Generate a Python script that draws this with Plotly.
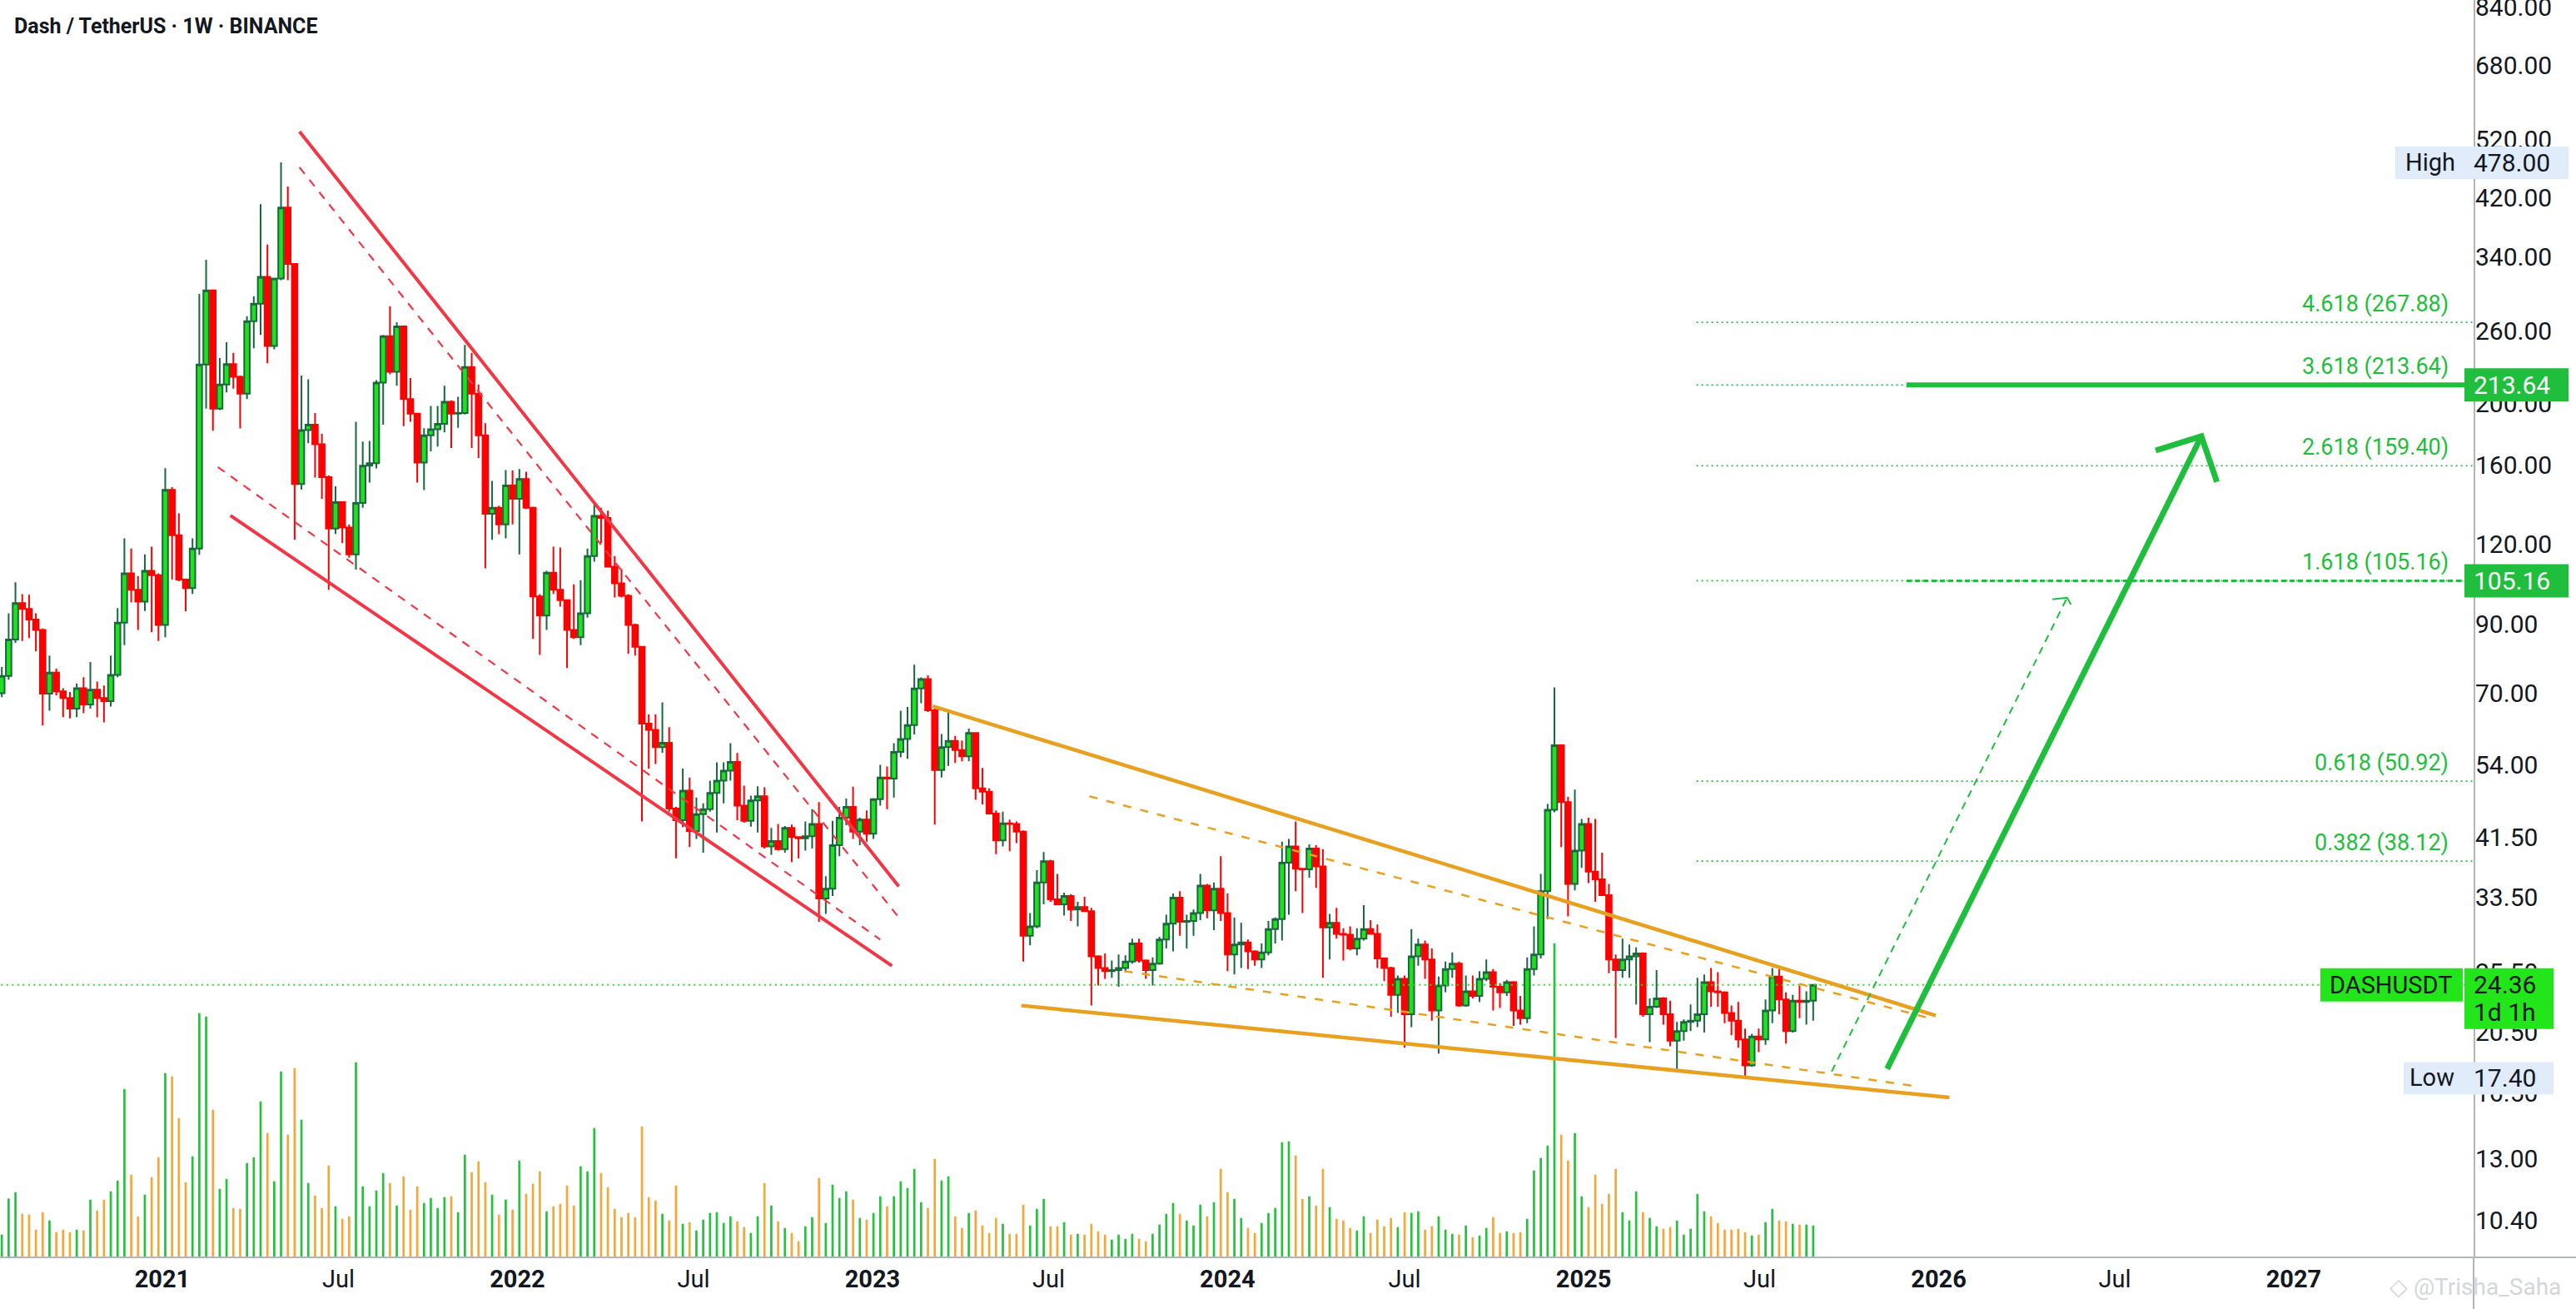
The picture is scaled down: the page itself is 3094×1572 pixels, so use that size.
import math
import pandas as pd
import plotly.graph_objects as go

# ---------------- data ----------------
first_week = "2020-07-20"
n_weeks = 267
week_dates = pd.date_range(first_week, periods=n_weeks, freq="7D")

opens = [
    70, 74.5, 85, 97, 95, 91.4, 88, 69.9, 75.4, 70.5,
    68.8, 66.2, 71.3, 67.2, 70.9, 68.8, 68, 74.8, 90.4, 108,
    101.8, 97.5, 109, 107.3, 89.6, 146.2, 124, 105.6, 102.4, 118.2,
    230, 300.8, 196, 214, 230.4, 220, 207, 269, 286.6, 316,
    246, 314, 406, 331, 149.3, 181.4, 185, 172.4, 153, 127,
    139.8, 127.5, 115.7, 139.4, 159.5, 161, 215.4, 254.8, 224, 264,
    203, 192.5, 161.3, 178, 182, 185.6, 201, 192.5, 193, 228,
    207, 178, 134, 137, 129, 148.5, 141.5, 152, 137, 99.4,
    92.7, 108.3, 101.8, 98, 88, 85.7, 93.5, 115, 133, 132,
    110.7, 104.2, 99.6, 89.6, 82.8, 62.7, 61.3, 57.6, 58.5, 46.1,
    44.2, 49.2, 42.5, 45.2, 46, 48.8, 51, 52.9, 54.6, 46.6,
    44.1, 47.5, 48.2, 40.2, 41, 39.8, 43, 41.6, 41.4, 41.7,
    43.6, 33.3, 34.5, 40.4, 44.6, 46.4, 42.4, 44.3, 42.1, 47.7,
    51.6, 51.4, 56.6, 59.3, 62.4, 71.2, 73.7, 65.8, 53, 57.6,
    58.9, 57, 55.7, 60.6, 49.6, 49, 45.3, 41.1, 43.7, 43.6,
    42.4, 29.1, 30.1, 35.3, 38.1, 33.2, 32.6, 33.6, 32, 32.3,
    31.8, 27, 25.9, 25.6, 25.7, 25.9, 26.5, 28.3, 26.6, 25.7,
    26.3, 28.7, 30.4, 33.4, 30.6, 30.7, 31.6, 34.9, 31.9, 34.5,
    31.6, 27.2, 28.2, 28.4, 27.5, 26.7, 27.4, 29.8, 30.9, 37.9,
    40.2, 37.1, 37, 39.9, 37.4, 30, 30.5, 29.3, 29.2, 27.8,
    28.8, 29.8, 29.3, 26.8, 25.9, 23.5, 24.9, 21.9, 27, 28.2,
    26.7, 22.2, 24.3, 25.8, 26.3, 22.6, 23.8, 23.4, 24.9, 25.5,
    24.2, 23.7, 24.6, 22.2, 21.6, 25.8, 27.2, 34.2, 45.9, 58,
    47.2, 35.1, 39.6, 43.6, 36.7, 35.7, 33.7, 26.7, 25.7, 26.7,
    27, 27.3, 21.9, 22.5, 23.2, 21.9, 19.9, 20.6, 21.3, 21.4,
    21.9, 24.6, 23.8, 23.7, 22, 21.4, 20, 18.2, 20.2, 20,
    22.2, 25.1, 23.1, 20.6, 23, 22.9, 23,
]
highs = [
    77, 93.5, 104.6, 100.2, 100, 93.5, 88.5, 80.2, 76.5, 71.3,
    70.3, 72.5, 74.2, 78.4, 73, 72, 80.2, 95.3, 122.6, 118.2,
    107, 115.7, 119, 108, 158.1, 147.6, 134.2, 106, 122.6, 297,
    336, 302, 235.4, 249.4, 240, 221, 274, 294.5, 411, 355,
    315, 478, 438, 332, 221, 218, 193, 179, 154, 148,
    140, 129, 187, 174, 174.5, 217.4, 256, 284, 268, 265,
    219, 193, 182.6, 198, 198, 213, 202, 204.6, 247, 240,
    214, 186, 151, 138, 157, 156.7, 157.6, 156, 137.5, 100.2,
    109, 119, 118.6, 98.2, 103.8, 105.4, 118.2, 138.4, 137, 135.5,
    115, 109.8, 100.2, 90, 83, 64.8, 64.8, 67.7, 61.9, 46.4,
    53.3, 51.6, 48, 47, 51, 54.5, 54.5, 58.4, 56.4, 50.1,
    48.3, 50, 49.8, 43, 43.6, 43.3, 43.5, 41.7, 44, 46,
    47.2, 36.1, 44.1, 46.4, 47.8, 49.9, 44.6, 45.8, 47.9, 54,
    53.7, 58.4, 65.7, 66.6, 77.6, 74.1, 74.7, 66.3, 60.4, 65.5,
    60, 59, 61.6, 60.8, 53.4, 49.6, 45.8, 45.6, 44.3, 44,
    42.6, 31.6, 36.9, 39.4, 38.3, 36.4, 34, 33.8, 32.9, 33.5,
    32.2, 27.1, 27.3, 26.6, 27.2, 27.1, 28.8, 28.8, 26.7, 26.9,
    29, 31.4, 33.9, 34.2, 31.4, 32, 36.4, 35.1, 35.3, 38.8,
    33.9, 31.1, 30.5, 28.7, 27.6, 28.3, 30.7, 31.1, 40.9, 41.3,
    44, 37.2, 40.5, 40.4, 39.8, 31.5, 32.2, 29.9, 30.1, 29.9,
    32.5, 30.8, 30.3, 26.9, 26, 25.2, 25.2, 29.8, 28.8, 28.6,
    27.8, 25.1, 26.5, 27.4, 26.5, 25.2, 25.2, 25.6, 26.7, 25.8,
    24.5, 24.8, 24.7, 23.4, 26.9, 30.1, 36.4, 46.9, 71.5, 58.2,
    48.1, 49.4, 44.4, 44.6, 44.4, 39.3, 35.1, 27.2, 28.8, 28.2,
    27.9, 27.4, 23.2, 25.7, 23.3, 23, 21.3, 21.5, 22.7, 25,
    25.3, 25.9, 25.5, 23.8, 22.6, 22.9, 20.8, 20.4, 20.8, 23.1,
    25.9, 25.8, 23.7, 23.5, 24.3, 23.8, 24.4,
]
lows = [
    69, 73.5, 84, 84.6, 85.5, 81.5, 62.3, 65.7, 69.5, 64.2,
    63.9, 64.2, 65.1, 66.2, 64.2, 63, 66.7, 74.2, 83.3, 97.2,
    88, 94.3, 87.3, 84.6, 85.7, 105.6, 105, 94.2, 100.3, 115.5,
    196, 181, 195, 208, 210.7, 182.5, 203, 244, 256, 231,
    243, 312, 312, 122, 146.3, 173, 152.8, 141.5, 101.8, 124.6,
    120.5, 114.3, 109.5, 137, 150, 158, 185, 222, 213, 184,
    187, 150, 146, 168, 171, 180, 170, 183, 192, 170,
    164, 110, 122, 124.5, 122.6, 129, 115.7, 136.4, 85.2, 80.4,
    88, 100.3, 95.8, 76.7, 85.2, 83.3, 92, 112.7, 120.5, 110.5,
    99, 99, 80.8, 80.2, 44, 53.3, 54.2, 56.4, 45.6, 38.5,
    43.1, 40.1, 41.3, 39.3, 45.6, 42.3, 47, 51, 44.2, 43.8,
    43.2, 42.3, 39.9, 39, 39.6, 39.3, 38, 38.5, 39.6, 39.9,
    30.6, 31.5, 33.6, 38.8, 43.4, 41.3, 40.4, 40.9, 41.3, 46.6,
    46, 48, 55.5, 55.2, 60.3, 67.5, 65.4, 43.5, 51.6, 53.8,
    54.4, 54.7, 54.7, 47.6, 46.8, 45.1, 39.1, 40.2, 39.5, 40.7,
    26.5, 28.1, 29.9, 32.6, 32.9, 32.5, 31.3, 30.7, 30.1, 31.7,
    22.6, 24.3, 24.9, 25, 24.2, 25.5, 26.3, 26.4, 24.9, 24.3,
    26.2, 27.8, 27.5, 29.1, 27.8, 29.1, 30.8, 31, 29.7, 30.7,
    25.6, 25.3, 25.9, 25.8, 26.1, 25.9, 27.1, 28.3, 28.6, 31.4,
    34.2, 31.6, 35.9, 34.6, 25, 26.7, 28.8, 26.6, 27.6, 27.1,
    28.6, 29.2, 25.9, 24.7, 21.7, 22, 19.4, 20.9, 26.1, 24.9,
    21.4, 19, 23.7, 25, 22.5, 22.5, 23.2, 22.9, 24.7, 22.2,
    22.4, 23.4, 21, 21.1, 21.2, 25.2, 26.8, 30.9, 45.5, 40.1,
    31.2, 34.3, 37.2, 35.2, 32.9, 33.6, 25.4, 20.1, 25, 25,
    22.7, 21.7, 19.8, 22.4, 21.1, 19.5, 17.8, 19.9, 20.6, 20.9,
    20.5, 22.5, 22.5, 21.2, 20.3, 19.4, 17.4, 18.1, 19.1, 19.6,
    21.2, 21.9, 19.7, 20.5, 21.6, 21.1, 21.4,
]
closes = [
    74.5, 85, 97, 95, 91.4, 88, 69.9, 75.4, 70.5, 68.8,
    66.2, 71.3, 67.2, 70.9, 68.8, 68, 74.8, 90.4, 108, 101.8,
    97.5, 109, 107.3, 89.6, 146.2, 124, 105.6, 102.4, 118.2, 230,
    300.8, 196, 214, 230.4, 220, 207, 269, 286.6, 316, 246,
    314, 406, 331, 149.3, 181.4, 185, 172.4, 153, 127, 139.8,
    127.5, 115.7, 139.4, 159.5, 161, 215.4, 254.8, 224, 264, 203,
    192.5, 161.3, 178, 182, 185.6, 201, 192.5, 193, 228, 207,
    178, 134, 137, 129, 148.5, 141.5, 152, 137, 99.4, 92.7,
    108.3, 101.8, 98, 88, 85.7, 93.5, 115, 133, 132, 110.7,
    104.2, 99.6, 89.6, 82.8, 62.7, 61.3, 57.6, 58.5, 46.1, 44.2,
    49.2, 42.5, 45.2, 46, 48.8, 51, 52.9, 54.6, 46.6, 44.1,
    47.5, 48.2, 40.2, 41, 39.8, 43, 41.6, 41.4, 41.7, 43.6,
    33.3, 34.5, 40.4, 44.6, 46.4, 42.4, 44.3, 42.1, 47.7, 51.6,
    51.4, 56.6, 59.3, 62.4, 71.2, 73.7, 65.8, 53, 57.6, 58.9,
    57, 55.7, 60.6, 49.6, 49, 45.3, 41.1, 43.7, 43.6, 42.4,
    29.1, 30.1, 35.3, 38.1, 33.2, 32.6, 33.6, 32, 32.3, 31.8,
    27, 25.9, 25.6, 25.7, 25.9, 26.5, 28.3, 26.6, 25.7, 26.3,
    28.7, 30.4, 33.4, 30.6, 30.7, 31.6, 34.9, 31.9, 34.5, 31.6,
    27.2, 28.2, 28.4, 27.5, 26.7, 27.4, 29.8, 30.9, 37.9, 40.2,
    37.1, 37, 39.9, 37.4, 30, 30.5, 29.3, 29.2, 27.8, 28.8,
    29.8, 29.3, 26.8, 25.9, 23.5, 24.9, 21.9, 27, 28.2, 26.7,
    22.2, 24.3, 25.8, 26.3, 22.6, 23.8, 23.4, 24.9, 25.5, 24.2,
    23.7, 24.6, 22.2, 21.6, 25.8, 27.2, 34.2, 45.9, 58, 47.2,
    35.1, 39.6, 43.6, 36.7, 35.7, 33.7, 26.7, 25.7, 26.7, 27,
    27.3, 21.9, 22.5, 23.2, 21.9, 19.9, 20.6, 21.3, 21.4, 21.9,
    24.6, 23.8, 23.7, 22, 21.4, 20, 18.2, 20.2, 20, 22.2,
    25.1, 23.1, 20.6, 23, 22.9, 23, 24.36,
]
# weekly volume (thousand DASH)
volumes = [
    273, 707, 783, 523, 513, 333, 543, 443, 303, 333,
    303, 333, 323, 693, 563, 693, 793, 923, 2023, 993,
    493, 753, 963, 1203, 2213, 2173, 1673, 903, 1213, 2933,
    2893, 1773, 823, 943, 593, 583, 1133, 1203, 1873, 1493,
    913, 2233, 1473, 2273, 1653, 893, 743, 593, 1103, 613,
    463, 493, 2343, 853, 613, 803, 1013, 893, 623, 973,
    573, 853, 653, 713, 593, 723, 733, 543, 1233, 1023,
    1153, 903, 753, 513, 693, 573, 1163, 763, 883, 1033,
    553, 613, 643, 863, 623, 1093, 1033, 1553, 1013, 843,
    583, 483, 533, 483, 1573, 723, 683, 523, 443, 863,
    403, 423, 323, 453, 533, 543, 413, 493, 433, 363,
    293, 493, 893, 623, 433, 353, 293, 193, 373, 483,
    953, 413, 873, 713, 793, 693, 473, 453, 533, 733,
    613, 733, 913, 833, 1063, 663, 593, 1183, 923, 973,
    493, 353, 533, 563, 383, 293, 473, 403, 283, 283,
    633, 383, 583, 703, 373, 373, 423, 273, 283, 273,
    403, 313, 273, 213, 273, 223, 283, 223, 193, 283,
    393, 523, 653, 523, 443, 383, 633, 493, 663, 1063,
    783, 703, 473, 353, 293, 413, 533, 593, 1383, 1393,
    1223, 703, 733, 623, 1063, 603, 463, 443, 353, 323,
    493, 293, 453, 373, 473, 363, 543, 533, 553, 333,
    373, 493, 333, 283, 273, 383, 243, 263, 353, 483,
    293, 313, 293, 303, 463, 1043, 1193, 1343, 3770, 1473,
    1163, 1493, 733, 603, 993, 643, 763, 1063, 543, 443,
    793, 543, 473, 373, 343, 363, 443, 273, 343, 763,
    553, 493, 413, 333, 333, 343, 303, 263, 273, 423,
    583, 443, 433, 403, 393, 393, 383,
]

last_price = 24.36
high_price = 478.00
low_price = 17.40

fib_levels = [0.382, 0.618, 1.618, 2.618, 3.618, 4.618]
fib_prices = [38.12, 50.92, 105.16, 159.40, 213.64, 267.88]
fib_start = "2025-04-27"
target_start = "2025-11-29"
target_main = 213.64
target_mid = 105.16

# drawn trend lines: (date, price) pairs
red_upper = (["2021-05-22", "2023-01-28"], [534.5, 34.8])
red_lower = (["2021-03-12", "2023-01-21"], [133.2, 26.1])
red_upper_mid = (["2021-05-22", "2023-01-28"], [469.5, 31.1])
red_lower_mid = (["2021-02-27", "2023-01-09"], [158.7, 28.7])
orange_upper = (["2023-03-04", "2025-12-29"], [66.8, 21.8])
orange_lower = (["2023-06-03", "2026-01-12"], [22.6, 16.2])
orange_upper_mid = (["2023-08-12", "2025-12-22"], [48.2, 21.6])
orange_lower_mid = (["2023-09-17", "2025-12-06"], [25.6, 16.9])
arrow_main = (["2025-11-09", "2026-09-28"], [17.97, 177.4])
arrow_main_head = (["2026-08-12", "2026-09-28", "2026-10-14"], [168.5, 177.4, 150.4])
arrow_alt = (["2025-09-13", "2026-05-13"], [17.8, 98.9])
arrow_alt_head = (["2026-04-28", "2026-05-13", "2026-05-17"], [98.3, 98.9, 96.5])

price_ticks = [840, 680, 520, 420, 340, 260, 200, 160, 120, 90, 70, 54,
               41.5, 33.5, 25.5, 20.5, 16.5, 13, 10.4]
time_ticks = ["2021-01-01", "2021-07-01", "2022-01-01", "2022-07-01", "2023-01-01",
              "2023-07-01", "2024-01-01", "2024-07-01", "2025-01-01", "2025-07-01",
              "2026-01-01", "2026-07-01", "2027-01-01"]
time_labels = ["<b>2021</b>", "Jul", "<b>2022</b>", "Jul", "<b>2023</b>", "Jul",
               "<b>2024</b>", "Jul", "<b>2025</b>", "Jul", "<b>2026</b>", "Jul", "<b>2027</b>"]

# ---------------- style / layout ----------------
W, H = 3094, 1572
ML, MR, MT, MB = 0, 123, 0, 62
PW, PH = W - ML - MR, H - MT - MB
X_RANGE = ["2020-07-18 03:00", "2027-07-04 21:00"]
Y_LO, Y_HI = math.log10(9.085), math.log10(860.5)

GREEN = "#1fbe3c"
LIME = "#22e51a"
RED = "#f23645"
ORANGE = "#e8a020"
TXT = "#131722"
AXIS = "#b2b5be"
FONT = "Roboto"
TXT_X = 2970  # left edge of price-scale texts (annotation box)

def ypaper(p, dpx=0.0):
    return (math.log10(p) - Y_LO) / (Y_HI - Y_LO) + dpx / PH

def xpaper(px):
    return px / PW

vol_colors = ["#26c13d" if c >= o else "#f5a838" for o, c in zip(opens, closes)]

fig = go.Figure()

fig.add_trace(go.Bar(
    x=week_dates, y=volumes, marker_color=vol_colors, marker_line_width=0,
    width=2.7 / 8.176 * 7 * 86400000, yaxis="y", hoverinfo="skip", showlegend=False,
))

fig.add_trace(go.Candlestick(
    x=week_dates, open=opens, high=highs, low=lows, close=closes, yaxis="y2",
    increasing=dict(line=dict(color="#17683d", width=2), fillcolor="#21e01d"),
    decreasing=dict(line=dict(color="#ff0000", width=2), fillcolor="#ff0000"),
    whiskerwidth=0, hoverinfo="skip", showlegend=False,
))

def add_line(pts, color, width, dash=None):
    fig.add_trace(go.Scatter(
        x=pts[0], y=pts[1], mode="lines", yaxis="y2", hoverinfo="skip", showlegend=False,
        line=dict(color=color, width=width, dash=dash),
    ))

# current price line
add_line((["2020-01-01", "2028-01-01"], [last_price, last_price]), LIME, 2, "2px,4.5px")

# fib levels
for lv, pr in zip(fib_levels, fib_prices):
    add_line(([fib_start, "2028-01-01"], [pr, pr]), GREEN, 1.8, "2px,4px")

add_line(red_upper, RED, 4)
add_line(red_lower, RED, 4)
add_line(red_upper_mid, RED, 2.2, "10px,9px")
add_line(red_lower_mid, RED, 2.2, "10px,9px")
add_line(orange_upper, ORANGE, 4.5)
add_line(orange_lower, ORANGE, 4.5)
add_line(orange_upper_mid, ORANGE, 2.5, "10px,11px")
add_line(orange_lower_mid, ORANGE, 2.5, "10px,11px")

add_line(([target_start, "2028-01-01"], [target_main, target_main]), GREEN, 6)
add_line(([target_start, "2028-01-01"], [target_mid, target_mid]), GREEN, 3, "6px,4px")

add_line(arrow_main, GREEN, 7)
add_line(arrow_main_head, GREEN, 7)
add_line(arrow_alt, GREEN, 2, "9px,7px")
add_line(arrow_alt_head, GREEN, 2)

shapes = []
annotations = []

# axis separators extending into margins
shapes.append(dict(type="line", xref="paper", yref="paper", x0=0, x1=W / PW, y0=0, y1=0,
                   line=dict(color=AXIS, width=2), layer="above"))
shapes.append(dict(type="line", xref="paper", yref="paper", x0=1, x1=1, y0=0, y1=-MB / PH,
                   line=dict(color=AXIS, width=2), layer="above"))

def box(x0, x1, price, top_px, bot_px, color):
    shapes.append(dict(type="rect", xref="paper", yref="paper",
                       x0=xpaper(x0), x1=xpaper(x1),
                       y0=ypaper(price, -bot_px), y1=ypaper(price, top_px),
                       fillcolor=color, line=dict(width=0), layer="above"))

def label(xpx, price, text, color, size=29, anchor="left", yshift=0):
    annotations.append(dict(xref="paper", yref="y2", x=xpaper(xpx), y=math.log10(price),
                            text=text, showarrow=False, borderpad=0,
                            xanchor=anchor, yanchor="middle", yshift=yshift,
                            font=dict(family=FONT, size=size, color=color)))

box(2877, 3085, high_price, 19, 20, "#e1ecfb")
label(2888, high_price, "High", TXT)
label(TXT_X, high_price, "%.2f" % high_price, TXT, size=30)

box(2960, 3085, target_main, 20, 20, GREEN)
label(TXT_X, target_main, "%.2f" % target_main, "white", size=30)
box(2960, 3085, target_mid, 20, 20, GREEN)
label(TXT_X, target_mid, "%.2f" % target_mid, "white", size=30)

box(2787, 2958, last_price, 20, 20, LIME)
label(2872, last_price, "DASHUSDT", TXT, anchor="center")
box(2960, 3067, last_price, 20, 53, LIME)
label(TXT_X, last_price, "%.2f" % last_price, TXT, size=30)
label(TXT_X, last_price, "1d 1h", TXT, size=30, yshift=-33)

box(2887, 3067, low_price, 19, 20, "#e1ecfb")
label(2893, low_price, "Low", TXT)
label(TXT_X, low_price, "%.2f" % low_price, TXT, size=30)

for lv, pr in zip(fib_levels, fib_prices):
    label(2942, pr, "%.3f (%.2f)" % (lv, pr), GREEN, size=27, anchor="right", yshift=22)

annotations.append(dict(xref="paper", yref="paper", x=xpaper(16), y=1 - 31 / PH,
                        text="<b>Dash / TetherUS · 1W · BINANCE</b>", showarrow=False,
                        xanchor="left", yanchor="middle", borderpad=0,
                        font=dict(family=FONT, size=25, color=TXT)))
annotations.append(dict(xref="paper", yref="paper", x=xpaper(3078), y=-(1545 - PH) / PH,
                        text="◇ @Trisha_Saha", showarrow=False, xanchor="right", yanchor="middle",
                        font=dict(family=FONT, size=28, color="#d3d6da")))

fig.update_layout(
    width=W, height=H, autosize=False,
    margin=dict(l=ML, r=MR, t=MT, b=MB, pad=0, autoexpand=False),
    paper_bgcolor="white", plot_bgcolor="white",
    showlegend=False, boxgap=0.15, boxgroupgap=0.05,
    shapes=shapes, annotations=annotations,
    xaxis=dict(type="date", range=X_RANGE, rangeslider=dict(visible=False),
               showgrid=False, zeroline=False, showline=False, automargin=False,
               tickvals=time_ticks, ticktext=time_labels, ticks="",
               tickfont=dict(family=FONT, size=29, color=TXT), ticklabelstandoff=6),
    yaxis=dict(range=[0, 15100], visible=False, showgrid=False, zeroline=False,
               automargin=False),
    yaxis2=dict(type="log", range=[Y_LO, Y_HI], overlaying="y", side="right",
                showgrid=False, zeroline=False, showline=True, linecolor=AXIS, linewidth=2,
                automargin=False,
                tickvals=price_ticks, ticktext=["%.2f" % v for v in price_ticks], ticks="",
                tickfont=dict(family=FONT, size=30, color=TXT), ticklabelstandoff=-6,
                ticklabeloverflow="allow"),
)

fig.write_html("out.html", config={"displayModeBar": False},
               post_script="document.body.style.margin='0px';document.body.style.overflow='hidden';")
